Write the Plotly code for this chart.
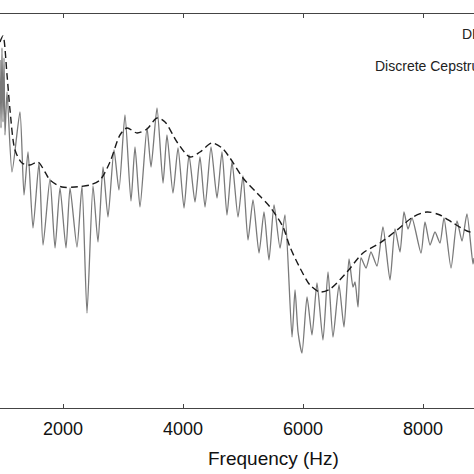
import plotly.graph_objects as go

# DFT magnitude spectrum (harmonic peaks / valleys), frequency in Hz, level in dB (relative)
dft_freq = [950, 967, 983, 1000, 1017, 1033, 1067, 1150, 1283, 1350, 1417, 1500, 1600, 1667,
            1783, 1867, 1950, 2050, 2117, 2233, 2317, 2400, 2500, 2583, 2667, 2750, 2850, 2933,
            3033, 3133, 3200, 3283, 3400, 3467, 3567, 3667, 3733, 3833, 3917, 4017, 4100, 4200,
            4283, 4367, 4467, 4567, 4650, 4733, 4817, 4917, 5000, 5083, 5167, 5267, 5350, 5433,
            5517, 5617, 5700, 5817, 5867, 5917, 5983, 6067, 6150, 6233, 6333, 6417, 6500, 6600,
            6683, 6767, 6833, 6867, 6917, 6967, 7050, 7133, 7233, 7333, 7450, 7533, 7617, 7683,
            7750, 7817, 7967, 8033, 8117, 8200, 8283, 8350, 8467, 8567, 8650, 8733, 8833, 8850]
dft_level = [87, 70, 90, 71.5, 87.5, 68.25, 79, 59, 74, 53.25, 64, 45, 61.25, 40.75,
             57.25, 40, 55, 40, 55, 40.25, 55.5, 23.75, 55.5, 41.5, 60.25, 47.75, 64.5, 54.5,
             73.25, 51.75, 65.25, 50.25, 70, 60.25, 75, 56.25, 68.25, 53.75, 65, 50, 63.25, 51.5,
             62.75, 50.25, 65.25, 52.5, 64, 48.25, 61.5, 47.75, 58, 42, 52, 38.75, 49, 37,
             50.75, 40, 48.25, 17.75, 29.5, 19, 13.75, 27.75, 18.25, 31.25, 17, 34, 17.75, 30.75,
             20.25, 37.25, 30.25, 31.5, 25.25, 37.5, 35, 39, 35.5, 45.25, 32, 44.75, 39, 49,
             44.75, 47.5, 38.75, 46.5, 40.75, 44, 41.25, 47.5, 35, 46.75, 41.75, 48.5, 36, 37.5]

# Discrete cepstrum spectral envelope
cep_freq = [950, 1000, 1067, 1117, 1200, 1317, 1450, 1583, 1700, 1783, 1983, 2200, 2450, 2617,
            2783, 2950, 3067, 3233, 3400, 3567, 3700, 3900, 4117, 4283, 4483, 4650, 4783, 5000,
            5233, 5450, 5667, 5783, 5950, 6117, 6283, 6450, 6733, 7000, 7283, 7567, 7833, 8067,
            8283, 8500, 8733, 8850]
cep_level = [91.5, 93, 83.25, 74.5, 64.5, 61.25, 60.75, 61.5, 59, 57, 55.25, 55.25, 55.75, 57,
             61.5, 68.25, 70, 68.75, 69.75, 72.5, 71.5, 66.5, 62.75, 64, 66.25, 65, 62.5, 57.5,
             53.75, 50.25, 45.25, 40.25, 35, 30.75, 29, 29.75, 34, 38.75, 41.25, 44.5, 47.75, 49,
             48.25, 46.25, 44.25, 43.75]

x_ticks = [2000, 4000, 6000, 8000]
x_tick_text = ["2000", "4000", "6000", "8000"]

FONT = "Arial, 'Liberation Sans', sans-serif"

fig = go.Figure()
fig.add_trace(go.Scatter(x=dft_freq, y=dft_level, mode="lines",
                         line=dict(color="#7a7a7a", width=1.3, shape="spline", smoothing=0.6),
                         name="DFT", showlegend=False))
fig.add_trace(go.Scatter(x=cep_freq, y=cep_level, mode="lines",
                         line=dict(color="#1a1a1a", width=1.4, dash="7px,4px", shape="spline", smoothing=0.8),
                         name="Discrete Cepstrum", showlegend=False))

fig.update_layout(
    width=474, height=474,
    margin=dict(l=0, r=0, t=14, b=66),
    paper_bgcolor="white", plot_bgcolor="white",
    font=dict(family=FONT, color="#111"),
    xaxis=dict(range=[950, 8850], tickvals=x_ticks, ticktext=x_tick_text,
               ticks="inside", ticklen=4, tickcolor="#444", tickwidth=1,
               showline=True, linecolor="#444", linewidth=1, mirror="ticks",
               ticklabelstandoff=4,
               showgrid=False, zeroline=False, tickfont=dict(size=18, color="#111")),
    yaxis=dict(range=[0, 98.5], showline=False, showticklabels=False, ticks="",
               showgrid=False, zeroline=False),
    annotations=[
        dict(text="Frequency (Hz)", x=273 / 474, y=-0.127, xref="paper", yref="paper",
             xanchor="center", yanchor="middle", showarrow=False,
             font=dict(size=19, color="#111", family=FONT)),
        dict(text="DFT", x=460 / 474, y=0.949, xref="paper", yref="paper",
             xanchor="left", yanchor="middle", showarrow=False,
             font=dict(size=14, color="#222", family=FONT)),
        dict(text="Discrete Cepstrum", x=373 / 474, y=0.868, xref="paper", yref="paper",
             xanchor="left", yanchor="middle", showarrow=False,
             font=dict(size=14, color="#222", family=FONT)),
    ],
)

fig.write_html("out.html")
